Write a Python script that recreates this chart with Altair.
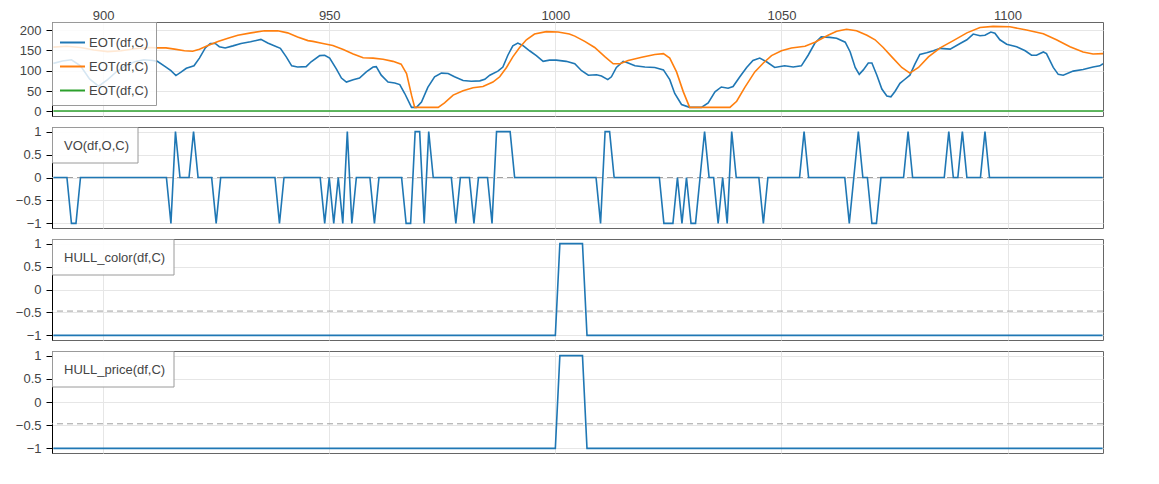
import altair as alt
import pandas as pd

# ---------------- data ----------------
x_ticks = [900, 950, 1000, 1050, 1100]
eot_y_ticks = [0, 50, 100, 150, 200]
sig_y_ticks = [-1, -0.5, 0, 0.5, 1]

eot_blue_x = [889, 891, 893, 895, 897, 899, 901, 903, 905, 907, 909, 911,
              912.0, 913.9, 915.0, 916.1, 917.3, 918.4, 920.1, 921.3, 922.6, 923.7,
              924.8, 925.7, 927.0, 928.7, 930.5, 932.6, 934.9, 936.4, 937.7, 939.2,
              940.5, 941.7, 943.0, 944.9, 946.0, 947.9, 949.0, 950.1, 951.6, 952.7,
              953.8, 955.3, 956.7, 958.2, 959.7, 960.4, 961.5, 963.0, 964.5, 965.6,
              966.7, 968.2, 969.3, 970.4, 971.8, 973.3, 974.8, 976.3, 977.7, 979.6,
              981.4, 983.3, 984.4, 985.5, 987.3, 988.4, 989.5, 990.6, 991.7, 992.8,
              994.3, 995.8, 997.3, 998.7, 1000.2, 1002.4, 1004.3, 1005.8, 1007.3, 1009.1,
              1010.2, 1011.6, 1012.4, 1013.5, 1015.0, 1016.1, 1017.6, 1019.8, 1022.0, 1023.9,
              1025.3, 1026.4, 1027.9, 1029.7, 1032.3, 1033.8, 1035.3, 1036.7, 1038.2, 1039.3,
              1040.8, 1042.3, 1043.7, 1045.2, 1046.7, 1048.5, 1050.7, 1052.6, 1054.4, 1055.9,
              1057.4, 1058.8, 1060.7, 1062.2, 1064.1, 1065.2, 1066.3, 1067.2, 1068.1, 1069.2,
              1070.0, 1071.1, 1072.2, 1073.3, 1074.2, 1075.1, 1076.2, 1077.3, 1078.4, 1079.5,
              1080.6, 1082.1, 1083.6, 1085.1, 1087.3, 1089.5, 1091.0, 1092.4, 1093.9, 1095.0,
              1096.3, 1097.2, 1098.3, 1099.8, 1102.0, 1103.9, 1105.3, 1106.4, 1107.9, 1108.6,
              1110.1, 1111.2, 1112.3, 1114.5, 1116.7, 1118.9, 1120.4, 1121.1]
eot_blue_y = [118, 124, 127, 112, 80, 62, 78, 98, 112, 122, 127, 125,
              123, 109, 100, 88, 97, 106, 112, 131, 156, 167,
              167, 159, 156, 161, 167, 171, 177, 168, 162, 155,
              134, 112, 109, 110, 122, 137, 138, 131, 104, 82,
              72, 78, 82, 97, 109, 110, 89, 72, 70, 66,
              44, 10, 10, 23, 59, 85, 94, 93, 85, 76,
              74, 75, 79, 89, 99, 109, 138, 161, 168, 162,
              149, 137, 123, 126, 126, 123, 117, 100, 89, 90,
              87, 78, 85, 108, 123, 119, 112, 109, 108, 102,
              78, 44, 17, 10, 10, 21, 48, 60, 57, 61,
              85, 108, 125, 131, 122, 108, 112, 109, 112, 138,
              168, 183, 182, 180, 170, 146, 108, 91, 102, 119,
              119, 89, 55, 38, 36, 49, 69, 79, 89, 116,
              140, 144, 149, 155, 153, 167, 176, 190, 186, 187,
              195, 192, 176, 165, 159, 149, 138, 138, 146, 142,
              108, 91, 89, 99, 103, 109, 112, 117]

eot_orange_x = [889, 892, 895, 898, 901, 904, 907, 910,
                912.0, 913.9, 915.8, 918.0, 919.8, 921.3, 923.2, 925.4, 927.6, 929.8,
                932.7, 935.7, 938.6, 940.8, 943.0, 945.3, 946.4, 948.6, 950.8, 953.1,
                955.3, 957.5, 959.7, 961.9, 964.1, 965.9, 967.1, 968.2, 968.9, 971.5,
                974.1, 975.5, 977.4, 979.6, 981.8, 984.0, 986.2, 987.7, 989.2, 990.6,
                992.1, 993.6, 995.4, 998.0, 1000.6, 1003.1, 1004.3, 1006.5, 1008.7, 1011.0,
                1012.8, 1014.3, 1016.1, 1019.1, 1022.0, 1023.9, 1025.3, 1026.8, 1028.3, 1029.7,
                1033.8, 1038.6, 1040.1, 1041.9, 1044.1, 1046.0, 1047.8, 1050.0, 1052.2, 1055.2,
                1057.4, 1060.3, 1062.2, 1064.4, 1066.6, 1068.9, 1070.7, 1072.5, 1074.4, 1076.6,
                1078.4, 1080.3, 1082.5, 1085.1, 1088.0, 1091.0, 1093.9, 1096.8, 1100.5, 1104.2,
                1107.9, 1110.8, 1113.8, 1116.7, 1118.9, 1121.1]
eot_orange_y = [158, 160, 157, 151, 147, 149, 154, 157,
                156, 156, 153, 149, 148, 153, 162, 172, 180, 187,
                193, 198, 198, 193, 183, 174, 172, 167, 162, 152,
                141, 132, 131, 128, 123, 116, 93, 40, 10, 10,
                10, 21, 40, 51, 58, 61, 72, 85, 108, 134,
                157, 176, 190, 196, 195, 190, 185, 172, 157, 134,
                117, 117, 125, 133, 140, 142, 131, 97, 48, 10,
                10, 10, 25, 59, 97, 119, 137, 149, 156, 160,
                170, 187, 197, 202, 198, 187, 176, 157, 134, 108,
                94, 108, 134, 156, 174, 193, 206, 209, 208, 200,
                191, 176, 159, 146, 141, 142]

eot_green_x = [889, 910, 935, 960, 985, 1010, 1035, 1060, 1085, 1121.1]
eot_green_y = [1, 1, 1, 1, 1, 1, 1, 1, 1, 1]

# VO(df,O,C): value is 0 except at these bars
vo_first, vo_last = 889, 1121
vo_nonzero_x = [893, 894, 915, 916, 920, 925, 939, 949, 951, 953, 954, 955, 960,
                967, 968, 969, 970, 971, 972, 978, 982, 986, 987, 988, 989, 990,
                1010, 1011, 1012, 1024, 1025, 1026, 1028, 1030, 1031, 1033, 1036,
                1038, 1039, 1046, 1055, 1065, 1067, 1070, 1071, 1078, 1087, 1090, 1095]
vo_nonzero_y = [-1, -1, -1, 1, 1, -1, -1, -1, -1, -1, 1, -1, -1,
                -1, -1, 1, 1, -1, 1, -1, -1, -1, 1, 1, 1, 1,
                -1, 1, 1, -1, -1, -1, -1, -1, -1, 1, -1,
                -1, 1, -1, 1, -1, 1, -1, -1, 1, 1, 1, 1]

hull_color_x = [889, 1000, 1001, 1006, 1007, 1121]
hull_color_y = [-1, -1, 1, 1, -1, -1]
hull_price_x = [889, 1000, 1001, 1006, 1007, 1121]
hull_price_y = [-1, -1, 1, 1, -1, -1]

vo_mean = 0.0
hull_color_mean = -0.47
hull_price_mean = -0.47

eot_label = "EOT(df,C)"
vo_label = "VO(df,O,C)"
hull_color_label = "HULL_color(df,C)"
hull_price_label = "HULL_price(df,C)"

assert len(eot_blue_x) == len(eot_blue_y)
assert len(eot_orange_x) == len(eot_orange_y)
assert len(vo_nonzero_x) == len(vo_nonzero_y)

# ---------------- build tables ----------------
eot_df = pd.concat([
    pd.DataFrame({"x": eot_blue_x, "y": eot_blue_y, "s": "s1"}),
    pd.DataFrame({"x": eot_orange_x, "y": eot_orange_y, "s": "s2"}),
    pd.DataFrame({"x": eot_green_x, "y": eot_green_y, "s": "s3"}),
], ignore_index=True)

vo_map = dict(zip(vo_nonzero_x, vo_nonzero_y))
vo_xs = list(range(vo_first, vo_last + 1))
vo_df = pd.DataFrame({"x": vo_xs, "y": [vo_map.get(v, 0) for v in vo_xs]})
hc_df = pd.DataFrame({"x": hull_color_x, "y": hull_color_y})
hp_df = pd.DataFrame({"x": hull_price_x, "y": hull_price_y})

# ---------------- styling ----------------
BLUE, ORANGE, GREEN = "#1f77b4", "#ff7f0e", "#2ca02c"
FONT = "Liberation Sans"
X_DOMAIN = [888.7, 1121.1]
W = 1051
xscale = alt.Scale(domain=X_DOMAIN, nice=False, zero=False)

top_x_axis = alt.Axis(orient="top", values=x_ticks, tickCount=10, ticks=False, domain=False,
                      labelPadding=0, title=None, grid=True, format="d")
hidden_x_axis = alt.Axis(values=x_ticks, tickCount=10, ticks=False, domain=False, labels=False,
                         title=None, grid=True)


def y_axis(vals):
    return alt.Axis(values=vals, tickCount=10, title=None, format=".2~f",
                    tickSize=6, labelPadding=5)


def dash_rule(level):
    return alt.Chart(pd.DataFrame({"level": [level]})).mark_rule(
        color="#a0a0a0", strokeDash=[6, 4], strokeWidth=1
    ).encode(y=alt.Y("level:Q"))


def label_box(label, box_w, box_h=36):
    src = pd.DataFrame({"name": [label]})
    box = alt.Chart(src).mark_rect(
        fill="white", fillOpacity=0.9, stroke="#9a9a9a", strokeWidth=1
    ).encode(x=alt.value(0.5), x2=alt.value(box_w), y=alt.value(0.5), y2=alt.value(box_h))
    txt = alt.Chart(src).mark_text(
        align="left", baseline="middle", font=FONT, fontSize=13, color="#444444"
    ).encode(x=alt.value(12), y=alt.value(box_h / 2 + 0.5), text="name:N")
    return box + txt


p1 = alt.Chart(eot_df).mark_line(strokeWidth=1.6, clip=True).encode(
    x=alt.X("x:Q", scale=xscale, axis=top_x_axis),
    y=alt.Y("y:Q", scale=alt.Scale(domain=[-11.3, 219.7], nice=False, zero=False),
            axis=y_axis(eot_y_ticks)),
    color=alt.Color("s:N", scale=alt.Scale(domain=["s1", "s2", "s3"], range=[BLUE, ORANGE, GREEN]),
                    legend=alt.Legend(title=None, orient="top-left", offset=0,
                                      fillColor="rgba(255,255,255,0.82)", strokeColor="#9a9a9a",
                                      padding=7, symbolType="stroke", symbolSize=625,
                                      symbolStrokeWidth=2, rowPadding=3, labelOffset=3,
                                      labelFontSize=13, labelFont=FONT, labelColor="#444",
                                      labelExpr="'" + eot_label + "'")),
).properties(width=W, height=94)


def signal_panel(df, level, label, box_w, h):
    line = alt.Chart(df).mark_line(strokeWidth=1.6, clip=True, color=BLUE).encode(
        x=alt.X("x:Q", scale=xscale, axis=hidden_x_axis),
        y=alt.Y("y:Q", scale=alt.Scale(domain=[-1.1, 1.1], nice=False, zero=False),
                axis=y_axis(sig_y_ticks)),
    )
    return alt.layer(dash_rule(level), line, label_box(label, box_w)).properties(width=W, height=h)


p2 = signal_panel(vo_df, vo_mean, vo_label, 86, 101)
p3 = signal_panel(hc_df, hull_color_mean, hull_color_label, 122, 101)
p4 = signal_panel(hp_df, hull_price_mean, hull_price_label, 122, 102)

chart = alt.vconcat(p1, p2, p3, p4, spacing=11, bounds="flush").resolve_scale(
    x="shared", y="independent", color="independent"
).resolve_legend(color="independent").properties(
    padding={"left": 6, "top": 0, "right": 5, "bottom": 5}
).configure_view(stroke="#666666", strokeWidth=1).configure_axis(
    gridColor="#e6e6e6", gridWidth=1, labelFont=FONT, labelFontSize=13,
    labelColor="#444444", domainColor="#000000", tickColor="#000000"
)

chart.save("out.html", embed_options={"renderer": "svg", "actions": False})
